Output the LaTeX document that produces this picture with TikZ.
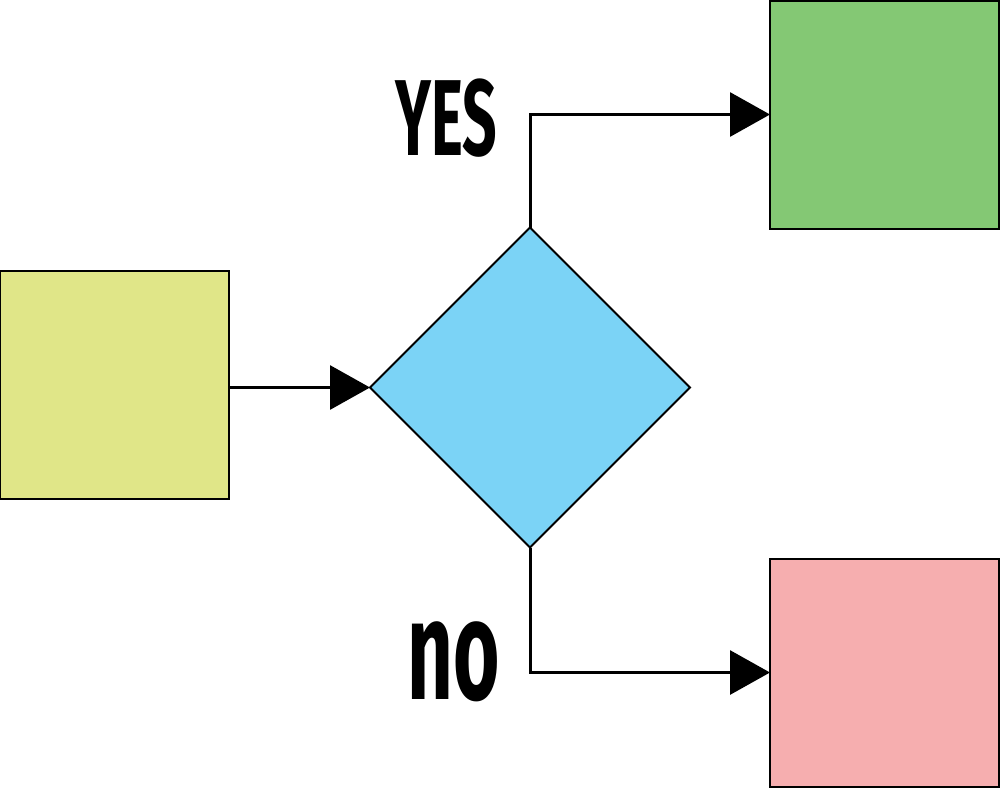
\documentclass[tikz,border=0pt]{standalone}
\usepackage{fontspec}
\setmainfont{Fira Sans}
\usetikzlibrary{shapes.geometric,arrows.meta}
\definecolor{cstart}{HTML}{E0E688}
\definecolor{cdec}{HTML}{7BD3F6}
\definecolor{cyes}{HTML}{84C874}
\definecolor{cno}{HTML}{F6AEAF}
\tikzset{
  box/.style={draw=black, line width=1pt, minimum width=114.5pt, minimum height=114pt, inner sep=0pt, outer sep=0pt},
  conn/.style={draw=black, line width=1.5pt, -{Triangle[length=20pt,width=22pt]}},
  lbl/.style={font=\bfseries, inner sep=0pt, text=black}
}
\begin{document}
\begin{tikzpicture}[x=0.5pt,y=-0.5pt]
\useasboundingbox (0,0) rectangle (1000,788);
\node[box, fill=cstart] (start) at (114.5,384.5) {};
\node[box, fill=cyes] (yes) at (884.5,114.5) {};
\node[box, fill=cno] (no) at (884.5,672.5) {};
\node[draw=black, line width=1pt, fill=cdec, diamond, aspect=1, minimum width=160pt, minimum height=160pt, inner sep=0pt, outer sep=0pt] (dec) at (530,387.5) {};
\draw[conn] (start.east |- dec.west) -- (dec.west);
\draw[conn] (dec.north) |- (yes.west);
\draw[conn] (dec.south) |- (no.west);
\node[lbl, xscale=0.56, font=\bfseries\fontsize{54}{54}\selectfont] (tyes) at (446,118) {YES};
\node[lbl, xscale=0.56, font=\bfseries\fontsize{71}{71}\selectfont] (tno) at (454,662) {no};
\end{tikzpicture}
\end{document}
